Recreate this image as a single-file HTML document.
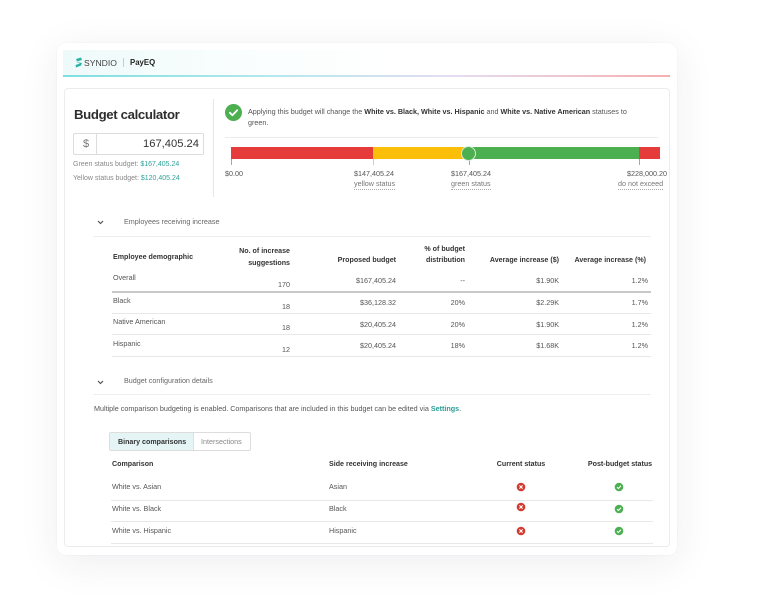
<!DOCTYPE html>
<html><head><meta charset="utf-8">
<style>
*{margin:0;padding:0;box-sizing:border-box}
html,body{width:768px;height:614px;background:#fff;overflow:hidden;font-family:"Liberation Sans",Arial,sans-serif;color:#555}
.card{position:absolute;left:57px;top:43px;width:620px;height:512px;background:#fff;border-radius:9px;box-shadow:0 8px 40px rgba(40,40,60,0.08),0 0 2px rgba(0,0,0,0.05)}
.hdr{position:absolute;left:63px;top:50px;width:607px;height:26px;background:linear-gradient(90deg,#eefafa 0%,#f8fdfd 25%,#fff 55%)}
.hline{position:absolute;left:63px;top:75px;width:607px;height:1.5px;background:linear-gradient(90deg,#7fdfdf 0%,#b5e8ee 35%,#e4dcef 65%,#f5b0b0 100%)}
.panel{position:absolute;left:64px;top:88px;width:606px;height:459px;border:1px solid #ececec;border-radius:4px;background:#fff}
.t{position:absolute;white-space:nowrap;line-height:10px;height:10px;font-size:7.2px}
.b{font-weight:bold;color:#333}
.hl{position:absolute;height:1px;background:#e8e8e8}
.c{text-align:center;width:100px}
.r{text-align:right}
.dot{border-bottom:1px dotted #aaa;line-height:9px;height:11px}
</style></head><body>
<div class="card"></div>
<div class="hdr"></div>
<div class="hline"></div>
<!-- logo -->
<svg style="position:absolute;left:75px;top:57px" width="8" height="11" viewBox="0 0 8 11"><path d="M1 2 L6 0.5 L7 3 L2 4.5 Z M1 5 L7 6 L6 8.5 L1 10.5 L0.5 8 L5 6.5 Z" fill="#2bb3a8"/></svg>
<div class="t" style="left:84px;top:58px;font-size:8.6px;color:#444">SYNDIO</div>
<div style="position:absolute;left:123px;top:58px;width:1px;height:9px;background:#ccc"></div>
<div class="t b" style="left:130px;top:58px;font-size:7.8px;color:#222">PayEQ</div>

<div class="panel"></div>

<!-- left calculator -->
<div class="t b" style="left:74px;top:107px;font-size:13.2px;line-height:16px;height:16px;letter-spacing:-0.35px;color:#2e2e2e">Budget calculator</div>
<div style="position:absolute;left:73px;top:133px;width:131px;height:22px;border:1px solid #ddd;border-radius:2px"></div>
<div style="position:absolute;left:96px;top:133px;width:1px;height:22px;background:#ddd"></div>
<div class="t" style="left:81px;top:138px;font-size:11px;line-height:12px;height:12px;width:10px;text-align:center;color:#777">$</div>
<div class="t r" style="right:569px;top:138px;font-size:11.2px;line-height:12px;height:12px;color:#333">167,405.24</div>
<div class="t" style="left:73px;top:160px;font-size:7px;color:#888">Green status budget: <span style="color:#2fa39b">$167,405.24</span></div>
<div class="t" style="left:73px;top:174px;font-size:7px;color:#888">Yellow status budget: <span style="color:#2fa39b">$120,405.24</span></div>

<div style="position:absolute;left:213px;top:99px;width:1px;height:98px;background:#e6e6e6"></div>

<!-- status message -->
<svg style="position:absolute;left:225px;top:104px" width="17" height="17" viewBox="0 0 17 17"><circle cx="8.5" cy="8.5" r="8.5" fill="#4caf50"/><path d="M4.8 8.7 L7.4 11.2 L12.2 6.2" stroke="#fff" stroke-width="1.8" fill="none" stroke-linecap="round" stroke-linejoin="round"/></svg>
<div class="t" style="left:248px;top:107px">Applying this budget will change the <span class="b">White vs. Black, White vs. Hispanic</span> and <span class="b">White vs. Native American</span> statuses to</div>
<div class="t" style="left:248px;top:118px">green.</div>
<div class="hl" style="left:225px;top:137px;width:433px;background:#ececec"></div>

<!-- bar -->
<div style="position:absolute;left:231px;top:147px;width:142px;height:12px;background:#e53b3b"></div>
<div style="position:absolute;left:373px;top:147px;width:96px;height:12px;background:#fbbf0a"></div>
<div style="position:absolute;left:469px;top:147px;width:170px;height:12px;background:#4caf50"></div>
<div style="position:absolute;left:639px;top:147px;width:21px;height:12px;background:#e53b3b"></div>
<div style="position:absolute;left:231px;top:159px;width:1px;height:6px;background:#e88"></div>
<div style="position:absolute;left:373px;top:159px;width:1px;height:6px;background:#f3cf5a"></div>
<div style="position:absolute;left:469px;top:159px;width:1px;height:6px;background:#7fc482"></div>
<div style="position:absolute;left:639px;top:159px;width:1px;height:6px;background:#e88"></div>
<div style="position:absolute;left:461px;top:146px;width:15px;height:15px;border-radius:50%;background:#4caf50;border:1.5px solid #d8eed9"></div>

<div class="t" style="left:225px;top:169px">$0.00</div>
<div class="t c" style="left:324px;top:169px">$147,405.24</div>
<div class="t c" style="left:421px;top:169px">$167,405.24</div>
<div class="t r" style="right:101px;top:169px">$228,000.20</div>
<div class="t dot" style="left:354px;top:179px;color:#777">yellow status</div>
<div class="t dot" style="left:451px;top:179px;color:#777">green status</div>
<div class="t dot" style="left:618px;top:179px;color:#777">do not exceed</div>

<!-- Section 1 -->
<svg style="position:absolute;left:97px;top:220px" width="7" height="5" viewBox="0 0 7 5"><path d="M1 1 L3.5 3.5 L6 1" stroke="#555" stroke-width="1.2" fill="none"/></svg>
<div class="t" style="left:124px;top:217px;color:#666">Employees receiving increase</div>
<div class="hl" style="left:93px;top:236px;width:558px;background:#eee"></div>

<div class="t b" style="left:113px;top:252px;font-size:7.1px">Employee demographic</div>
<div class="t b r" style="right:478px;top:246px;font-size:7.1px">No. of increase</div>
<div class="t b r" style="right:478px;top:258px;font-size:7.1px">suggestions</div>
<div class="t b r" style="right:372px;top:255px;font-size:7.1px">Proposed budget</div>
<div class="t b r" style="right:303px;top:244px;font-size:7.1px">% of budget</div>
<div class="t b r" style="right:303px;top:255px;font-size:7.1px">distribution</div>
<div class="t b r" style="right:209px;top:255px;font-size:7.1px">Average increase ($)</div>
<div class="t b r" style="right:122px;top:255px;font-size:7.1px">Average increase (%)</div>

<div class="t" style="left:113px;top:273px">Overall</div>
<div class="t r" style="right:478px;top:280px">170</div>
<div class="t r" style="right:372px;top:276px">$167,405.24</div>
<div class="t r" style="right:303px;top:276px">--</div>
<div class="t r" style="right:209px;top:276px">$1.90K</div>
<div class="t r" style="right:120px;top:276px">1.2%</div>
<div class="hl" style="left:112px;top:291px;width:539px;height:1.5px;background:#c8c8c8"></div>

<div class="t" style="left:113px;top:296px">Black</div>
<div class="t r" style="right:478px;top:302px">18</div>
<div class="t r" style="right:372px;top:298px">$36,128.32</div>
<div class="t r" style="right:303px;top:298px">20%</div>
<div class="t r" style="right:209px;top:298px">$2.29K</div>
<div class="t r" style="right:120px;top:298px">1.7%</div>
<div class="hl" style="left:112px;top:313px;width:539px"></div>

<div class="t" style="left:113px;top:317px">Native American</div>
<div class="t r" style="right:478px;top:323px">18</div>
<div class="t r" style="right:372px;top:320px">$20,405.24</div>
<div class="t r" style="right:303px;top:320px">20%</div>
<div class="t r" style="right:209px;top:320px">$1.90K</div>
<div class="t r" style="right:120px;top:320px">1.2%</div>
<div class="hl" style="left:112px;top:334px;width:539px"></div>

<div class="t" style="left:113px;top:339px">Hispanic</div>
<div class="t r" style="right:478px;top:345px">12</div>
<div class="t r" style="right:372px;top:341px">$20,405.24</div>
<div class="t r" style="right:303px;top:341px">18%</div>
<div class="t r" style="right:209px;top:341px">$1.68K</div>
<div class="t r" style="right:120px;top:341px">1.2%</div>
<div class="hl" style="left:112px;top:356px;width:539px"></div>

<!-- Section 2 -->
<svg style="position:absolute;left:97px;top:380px" width="7" height="5" viewBox="0 0 7 5"><path d="M1 1 L3.5 3.5 L6 1" stroke="#555" stroke-width="1.2" fill="none"/></svg>
<div class="t" style="left:124px;top:376px;color:#666">Budget configuration details</div>
<div class="hl" style="left:93px;top:394px;width:558px;background:#eee"></div>
<div class="t" style="left:94px;top:404px">Multiple comparison budgeting is enabled. Comparisons that are included in this budget can be edited via <span style="color:#2a9d94;font-weight:bold">Settings</span>.</div>

<div style="position:absolute;left:109px;top:432px;width:142px;height:19px;border:1px solid #ddd;border-radius:2px;overflow:hidden"><div style="width:84px;height:100%;background:#e5f5f6;border-right:1px solid #e0e0e0"></div></div>
<div class="t b" style="left:118px;top:437px;font-size:7.1px">Binary comparisons</div>
<div class="t" style="left:201px;top:437px;color:#888">Intersections</div>

<div class="t b" style="left:112px;top:459px;font-size:7.1px">Comparison</div>
<div class="t b" style="left:329px;top:459px;font-size:7.1px">Side receiving increase</div>
<div class="t b c" style="left:471px;top:459px;font-size:7.1px">Current status</div>
<div class="t b c" style="left:570px;top:459px;font-size:7.1px">Post-budget status</div>

<div class="t" style="left:112px;top:482px">White vs. Asian</div>
<div class="t" style="left:329px;top:482px">Asian</div>
<div class="hl" style="left:111px;top:500px;width:542px"></div>
<div class="t" style="left:112px;top:504px">White vs. Black</div>
<div class="t" style="left:329px;top:504px">Black</div>
<div class="hl" style="left:111px;top:521px;width:542px"></div>
<div class="t" style="left:112px;top:526px">White vs. Hispanic</div>
<div class="t" style="left:329px;top:526px">Hispanic</div>
<div class="hl" style="left:111px;top:543px;width:542px"></div>

<!-- icons -->
<svg style="position:absolute;left:0;top:0" width="768" height="614">
<defs>
<g id="x"><circle r="4.3" fill="#d23a30"/><path d="M-1.6 -1.6 L1.6 1.6 M1.6 -1.6 L-1.6 1.6" stroke="#fff" stroke-width="1.1"/></g>
<g id="ok"><circle r="4.3" fill="#4caf50"/><path d="M-2 0.2 L-0.6 1.5 L2 -1.3" stroke="#fff" stroke-width="1.1" fill="none"/></g>
</defs>
<use href="#x" x="521" y="487"/><use href="#ok" x="619" y="487"/>
<use href="#x" x="521" y="507"/><use href="#ok" x="619" y="509"/>
<use href="#x" x="521" y="531"/><use href="#ok" x="619" y="531"/>
</svg>
</body></html>
